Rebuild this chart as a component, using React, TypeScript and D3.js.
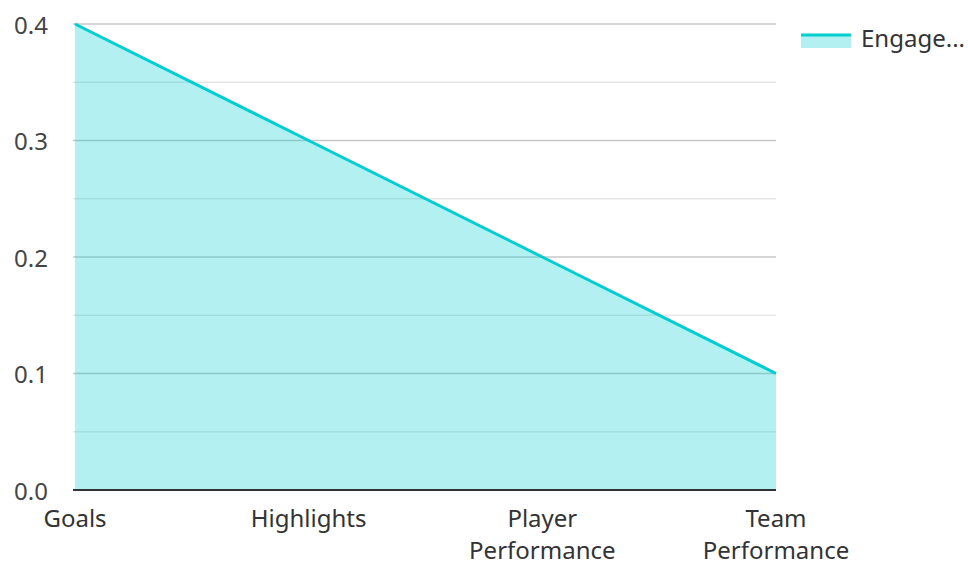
import React from 'react';
import * as d3 from 'd3';

// chart data
const categories = ['Goals', 'Highlights', 'Player Performance', 'Team Performance'];
const engagement = [0.4, 0.3, 0.2, 0.1];
const yTicks = [0, 0.1, 0.2, 0.3, 0.4];
const yMinorTicks = [0.05, 0.15, 0.25, 0.35];
const seriesName = 'Engagement';

const WIDTH = 968;
const HEIGHT = 562;
const LINE_COLOR = '#00CED1';
const FILL_COLOR = 'rgba(0, 206, 209, 0.3)';
const FONT = "'Noto Sans', 'Open Sans', sans-serif";

/**
 * Split a category label into lines for wrapping
 */
function wrapLabel(label: string): string[] {
  return label.split(' ');
}

const App: React.FC = () => {
  const x = d3.scalePoint<string>()
    .domain(categories)
    .range([75, 776]);

  const y = d3.scaleLinear()
    .domain([0, 0.4])
    .range([490, 24]);

  const points = categories.map((c, i) => ({ c, v: engagement[i] }));

  const area = d3.area<{ c: string; v: number }>()
    .x(d => x(d.c) as number)
    .y0(y(0))
    .y1(d => y(d.v));

  const line = d3.line<{ c: string; v: number }>()
    .x(d => x(d.c) as number)
    .y(d => y(d.v));

  const [x0, x1] = x.range();

  return (
    <svg
      width={WIDTH}
      height={HEIGHT}
      style={{ position: 'absolute', left: 0, top: 0, display: 'block', background: '#fff' }}
      fontFamily={FONT}
    >
      {/* minor gridlines */}
      {yMinorTicks.map(t => (
        <line key={`m${t}`} x1={x0 - 2} x2={x1} y1={y(t)} y2={y(t)} stroke="#e6e6e6" strokeWidth={1.5} />
      ))}
      {/* major gridlines */}
      {yTicks.filter(t => t !== 0).map(t => (
        <line key={`g${t}`} x1={x0 - 2} x2={x1} y1={y(t)} y2={y(t)} stroke="#c8c8c8" strokeWidth={1.5} />
      ))}

      <path d={area(points) || ''} fill={FILL_COLOR} />
      <path d={line(points) || ''} fill="none" stroke={LINE_COLOR} strokeWidth={3} />

      {/* baseline */}
      <line x1={x0 - 2} x2={x1} y1={y(0)} y2={y(0)} stroke="#333" strokeWidth={2} />

      {/* y tick labels */}
      {yTicks.map(t => (
        <text
          key={`t${t}`}
          x={48}
          y={y(t)}
          textAnchor="end"
          dominantBaseline="central"
          fontSize={24}
          fill="#444"
        >
          {d3.format('.1f')(t)}
        </text>
      ))}

      {/* x tick labels */}
      {categories.map(c => {
        const lines = wrapLabel(c);
        return (
          <text key={c} x={x(c)} y={527} textAnchor="middle" fontSize={24} fill="#333">
            {lines.map((l, i) => (
              <tspan key={i} x={x(c)} dy={i === 0 ? 0 : 32}>{l}</tspan>
            ))}
          </text>
        );
      })}

      {/* legend */}
      <g transform="translate(801, 0)">
        <rect x={0} y={36} width={50} height={12} fill={FILL_COLOR} />
        <line x1={0} x2={50} y1={35} y2={35} stroke={LINE_COLOR} strokeWidth={3} />
        <text x={60} y={37} dominantBaseline="central" fontSize={24} fill="#333">
          {seriesName.slice(0, 6) + '...'}
        </text>
      </g>
    </svg>
  );
};

export default App;
